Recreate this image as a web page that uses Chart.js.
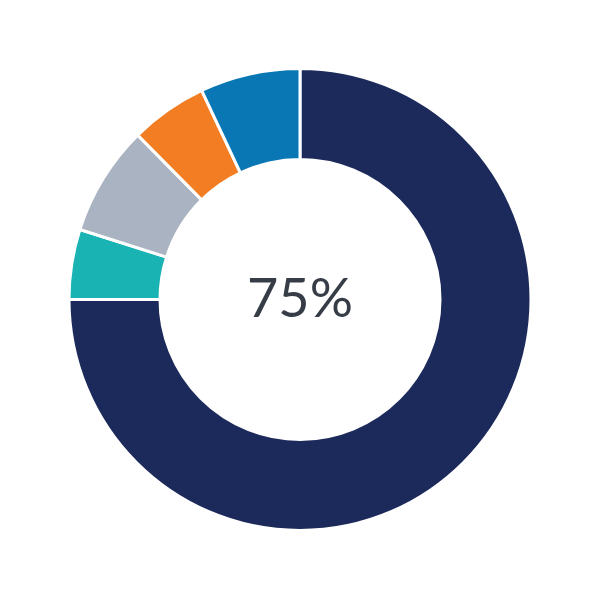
<!DOCTYPE html>
<html>
<head>
<meta charset="utf-8">
<script src="https://cdn.jsdelivr.net/npm/chart.js@4"></script>
<style>
  html, body { margin: 0; padding: 0; background: #fff; }
  #wrap { position: relative; width: 600px; height: 599px; }
</style>
</head>
<body>
<div id="wrap"><canvas id="grafica" width="600" height="599"></canvas></div>
<script>
const categorias = ['A', 'B', 'C', 'D', 'E'];
const valores = [75, 4.9, 7.7, 5.4, 7.0];
const colores = ['#1b2a5a', '#1ab3b3', '#a9b3c1', '#f27d22', '#0a77b5'];
const textoCentro = '75%';

const centerText = {
  id: 'centerText',
  afterDraw(chart) {
    const meta = chart.getDatasetMeta(0).data[0];
    const ctx = chart.ctx;
    ctx.save();
    ctx.font = '54px Lato';
    ctx.fillStyle = '#363d47';
    ctx.textAlign = 'center';
    ctx.textBaseline = 'middle';
    ctx.fillText(textoCentro, meta.x, meta.y);
    ctx.restore();
  }
};

new Chart(document.getElementById('grafica').getContext('2d'), {
  type: 'doughnut',
  data: {
    labels: categorias,
    datasets: [{
      data: valores,
      backgroundColor: colores,
      borderColor: '#ffffff',
      borderWidth: 3
    }]
  },
  options: {
    responsive: false,
    animation: false,
    cutout: '60.6%',
    layout: { padding: 67 },
    plugins: {
      legend: { display: false },
      tooltip: { enabled: false }
    }
  },
  plugins: [centerText]
});
</script>
</body>
</html>
